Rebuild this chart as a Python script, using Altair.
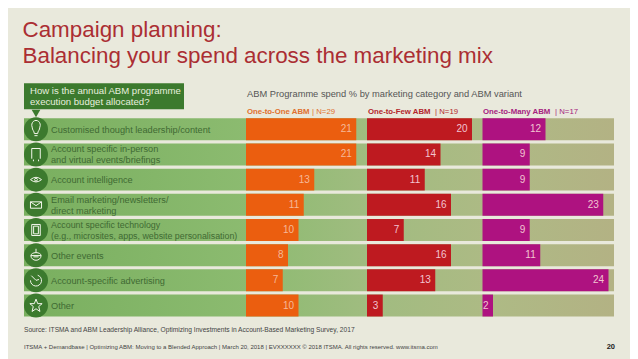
import altair as alt
import pandas as pd

categories = [
    "Customised thought leadership/content",
    "Account specific in-person|and virtual events/briefings",
    "Account intelligence",
    "Email marketing/newsletters/|direct marketing",
    "Account specific technology|(e.g., microsites, apps, website personalisation)",
    "Other events",
    "Account-specific advertising",
    "Other",
]
one_to_one = [21, 21, 13, 11, 10, 8, 7, 10]
one_to_few = [20, 14, 11, 16, 7, 16, 13, 3]
one_to_many = [12, 9, 9, 23, 9, 11, 24, 2]

title_lines = ["Campaign planning:", "Balancing your spend across the marketing mix"]
callout = ["How is the annual ABM programme", "execution budget allocated?"]
subtitle = "ABM Programme spend % by marketing category and ABM variant"
source = "Source: ITSMA and ABM Leadership Alliance, Optimizing Investments in Account-Based Marketing Survey, 2017"
footer = "ITSMA + Demandbase | Optimizing ABM: Moving to a Blended Approach | March 20, 2018 | EVXXXXXX \u00a9 2018 ITSMA. All rights reserved. www.itsma.com"
page = "20"

panels = [
    ("One-to-One ABM", "N=29", one_to_one, "#EB5E0F", 238, 358, "#E0702E", 239, 65),
    ("One-to-Few ABM", "N=19", one_to_few, "#BE1A20", 359, 474, "#B3262C", 360, 67),
    ("One-to-Many ABM", "N=17", one_to_many, "#AE1280", 474.5, 606, "#A5227F", 475, 72),
]
PX_PER_UNIT = 5.25
BG = "#E9E9DC"
DARK = "#3C7A2E"

icons = [
    "M-0.45,-0.25 A0.5,0.55 0 1 1 0.45,-0.25 C0.45,0.1 0.2,0.2 0.2,0.5 L-0.2,0.5 C-0.2,0.2 -0.45,0.1 -0.45,-0.25 M-0.18,0.75 L0.18,0.75",
    "M-0.5,0.5 L-0.5,-0.7 L0.5,-0.7 L0.5,0.5 M-0.3,0.8 L-0.3,0.6 M0.3,0.8 L0.3,0.6",
    "M-0.65,0 Q0,-0.55 0.65,0 Q0,0.55 -0.65,0 M-0.17,0 A0.17,0.17 0 1 0 0.17,0 A0.17,0.17 0 1 0 -0.17,0",
    "M-0.65,-0.35 L0.65,-0.35 L0.65,0.4 L-0.65,0.4 Z M-0.65,-0.35 L0,0.1 L0.65,-0.35",
    "M-0.5,-0.65 L0.5,-0.65 L0.5,0.65 L-0.5,0.65 Z M-0.28,-0.45 L0.28,-0.45 L0.28,0.45 L-0.28,0.45 Z",
    "M-0.6,0.05 L0.6,0.05 A0.6,0.55 0 0 1 -0.6,0.05 M-0.6,0.05 A0.6,0.35 0 0 1 0.6,0.05 M0,-0.3 L0,-0.75 M-0.3,0.2 L0.3,0.2",
    "M-0.65,0 A0.65,0.65 0 1 0 0.2,-0.6 M-0.55,-0.55 L0,0 L0.35,-0.1",
    "M0,-0.75 L0.2,-0.22 L0.72,-0.22 L0.32,0.12 L0.46,0.7 L0,0.38 L-0.46,0.7 L-0.32,0.12 L-0.72,-0.22 L-0.2,-0.22 Z",
]

Y_RANGE = [110.3, 308.5]
yscale = alt.Scale(domain=categories, range=Y_RANGE, paddingInner=0.128, paddingOuter=0)
Y = alt.Y("cat:N", scale=yscale, axis=None, sort=None)


def annot(text, x, y, size, color, weight="normal", align="left", baseline="alphabetic"):
    return alt.Chart(pd.DataFrame({"t": [text]})).mark_text(
        font="Liberation Sans", fontSize=size, color=color, fontWeight=weight,
        align=align, baseline=baseline,
    ).encode(x=alt.value(x), y=alt.value(y), text="t:N")


layers = []

# background strip for each row
gradient = alt.Gradient(
    gradient="linear", x1=0, x2=1, y1=0, y2=0,
    stops=[
        alt.GradientStop(offset=0, color="#79AF5F"),
        alt.GradientStop(offset=0.38, color="#8CBB70"),
        alt.GradientStop(offset=0.58, color="#A0BC80"),
        alt.GradientStop(offset=0.8, color="#AEBA85"),
        alt.GradientStop(offset=1, color="#B3B284"),
    ],
)
strip_df = pd.DataFrame({"cat": categories, "a": [0] * 8, "b": [1] * 8})
layers.append(
    alt.Chart(strip_df).mark_bar(color=gradient).encode(
        x=alt.X("a:Q", scale=alt.Scale(domain=[0, 1], range=[16, 606]), axis=None),
        x2="b:Q",
        y=Y,
    )
)

# bars and value labels, one scale per variant
for name, n, vals, col, x0, x1, tcol, hx, off in panels:
    df = pd.DataFrame({"cat": categories, "v": vals})
    xs = alt.Scale(domain=[0, (x1 - x0) / PX_PER_UNIT], range=[x0, x1], nice=False, zero=False)
    X = alt.X("v:Q", scale=xs, axis=None)
    layers.append(alt.Chart(df).mark_bar(color=col).encode(x=X, x2=alt.datum(0), y=Y))
    layers.append(
        alt.Chart(df).mark_text(
            font="Liberation Sans", fontSize=10, align="right", dx=-4.5,
            color="#F6B898" if col == "#EB5E0F" else "#F2C4D0",
        ).encode(x=X, y=Y, text="v:Q")
    )

# icon discs
icon_df = pd.DataFrame({"cat": categories, "icon": icons})
layers.append(
    alt.Chart(icon_df).mark_point(filled=True, color=DARK, size=576, shape="circle", opacity=1).encode(
        x=alt.value(28), y=Y
    )
)
for cat, path in zip(categories, icons):
    layers.append(
        alt.Chart(pd.DataFrame({"cat": [cat]})).mark_point(
            shape=path, size=290, stroke="#F4F6EC", strokeWidth=1, filled=False, opacity=1
        ).encode(x=alt.value(28), y=Y)
    )

# row labels: single-line rows, two-line rows, and the one long row
label_df = pd.DataFrame({"cat": categories, "lines": [c.split("|") for c in categories]})
is_multi = label_df["lines"].str.len() > 1
long_row = categories[4]
label_groups = [
    (label_df[~is_multi], 9.2, 0.5),
    (label_df[is_multi & (label_df["cat"] != long_row)], 9.2, -5),
    (label_df[label_df["cat"] == long_row], 8.85, -5),
]
for frame, fsize, shift in label_groups:
    layers.append(
        alt.Chart(frame).mark_text(
            font="Liberation Sans", fontSize=fsize, color="#3F6A33", align="left",
            baseline="middle", lineHeight=11, dy=shift,
        ).encode(x=alt.value(43), y=Y, text="lines:N")
    )

# callout
layers.append(
    alt.Chart(pd.DataFrame({"a": [0]})).mark_rect(color=DARK).encode(
        x=alt.value(16), x2=alt.value(176), y=alt.value(75.3), y2=alt.value(101.3)
    )
)
layers.append(
    alt.Chart(pd.DataFrame({"a": [0]})).mark_point(
        shape="triangle-down", filled=True, color=DARK, size=75, opacity=1
    ).encode(x=alt.value(28), y=alt.value(105.5))
)
layers.append(annot(callout[0], 22, 86, 9.6, "#E8EFDF"))
layers.append(annot(callout[1], 22, 97, 9.6, "#E8EFDF"))

# header text
layers.append(annot(title_lines[0], 14.5, 28.7, 22.4, "#AB2E33"))
layers.append(annot(title_lines[1], 14.5, 54.7, 22.4, "#AB2E33"))
layers.append(annot(subtitle, 239, 89, 9.3, "#555555"))
for name, n, vals, col, x0, x1, tcol, hx, off in panels:
    layers.append(annot(name, hx, 105.7, 7.8, tcol, weight="bold"))
    layers.append(annot("| " + n, hx + off, 105.7, 7.8, tcol))

# footers
layers.append(annot(source, 16, 323.7, 6.65, "#444444"))
layers.append(annot(footer, 16, 340.7, 6.0, "#444444"))
layers.append(annot(page, 607, 341, 7.5, "#222222", weight="bold", align="right"))

chart = (
    alt.layer(*layers)
    .resolve_scale(x="independent", y="shared")
    .properties(
        width=622,
        height=351,
        padding=0,
        autosize=alt.AutoSizeParams(type="none"),
        background=BG,
    )
    .configure_view(stroke=None)
)

chart.save("out.html", embed_options={"renderer": "svg", "actions": False})
